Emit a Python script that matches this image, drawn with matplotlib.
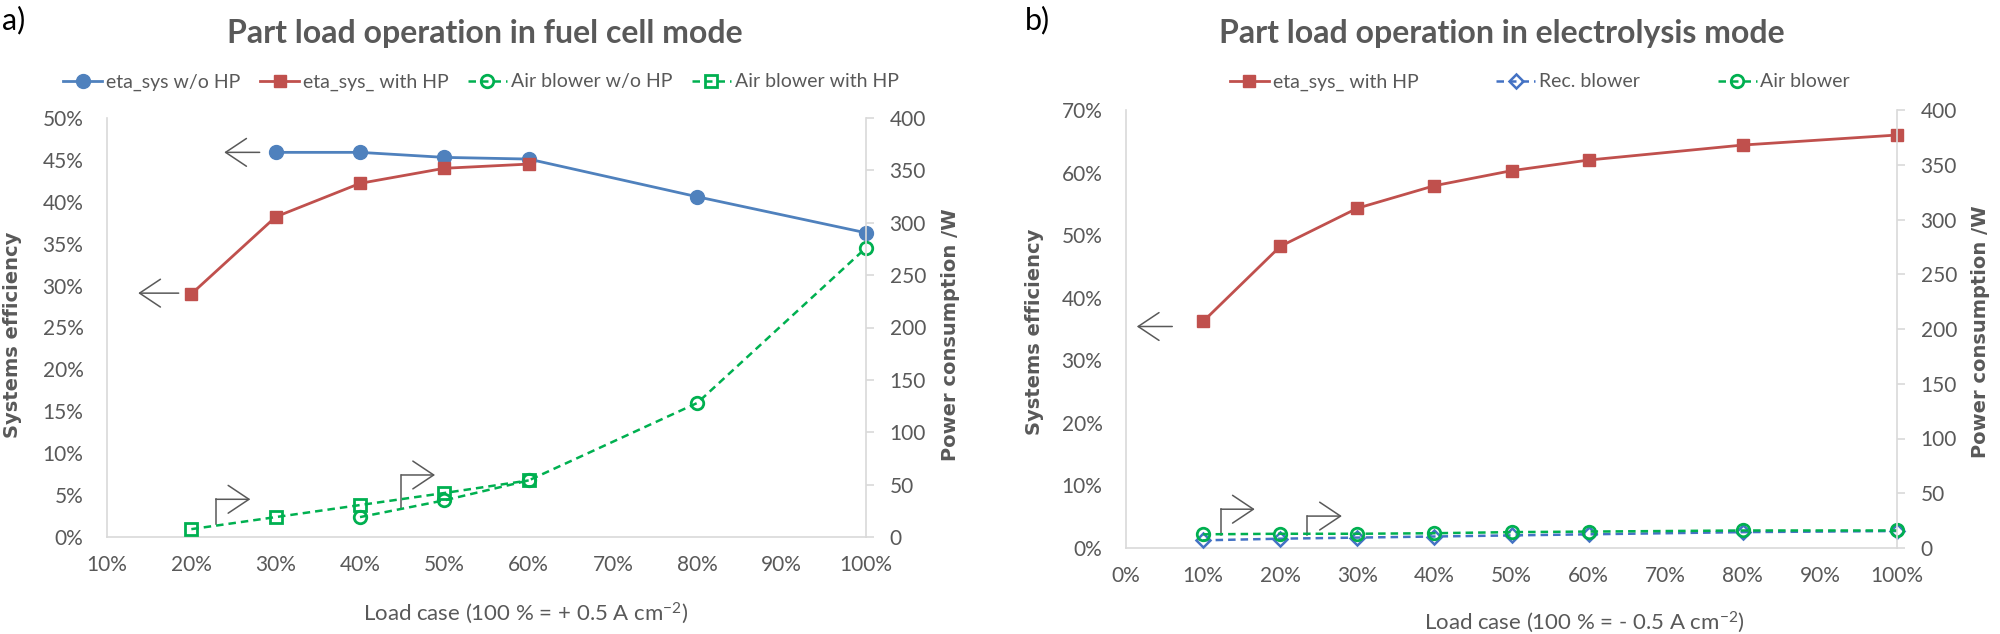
import matplotlib
matplotlib.use("Agg")
import matplotlib.pyplot as plt
from matplotlib.ticker import FuncFormatter

plt.rcParams['font.family'] = ['Lato', 'DejaVu Sans']
plt.rcParams['mathtext.fontset'] = 'custom'
plt.rcParams['mathtext.rm'] = 'Lato'
plt.rcParams['mathtext.default'] = 'rm'

GRAY = '#595959'
SPINE = '#D9D9D9'
BLUE = '#4F81BD'
RED = '#C0504D'
GREEN = '#00B050'

# ---- data: fuel cell mode (a) ----
fc_load_wo = [30, 40, 50, 60, 80, 100]
fc_eta_wo = [45.9, 45.9, 45.3, 45.1, 40.6, 36.3]
fc_load_hp = [20, 30, 40, 50, 60]
fc_eta_hp = [29.0, 38.2, 42.2, 44.0, 44.5]
fc_air_load_wo = [40, 50, 60, 80, 100]
fc_air_wo = [19, 35, 54, 128, 276]
fc_air_hp = [7.5, 19, 30.5, 42, 54]

# ---- data: electrolysis mode (b) ----
el_load = [10, 20, 30, 40, 50, 60, 80, 100]
el_eta_hp = [36.2, 48.2, 54.3, 57.9, 60.3, 62.0, 64.4, 66.0]
el_rec = [7, 8.5, 9.5, 10.5, 11.5, 12.5, 14.5, 15.5]
el_air = [12.5, 13, 13, 13.5, 14.5, 15, 16, 16]

W, H = 2000, 634
fig = plt.figure(figsize=(W / 100, H / 100), dpi=100)


def box(x0, y0, x1, y1):
    # pixel box (top-left origin) -> figure fraction rect
    return [x0 / W, 1 - y1 / H, (x1 - x0) / W, (y1 - y0) / H]


def style(ax, axr, xlim, xticks, ylim, yticks, rlim, rticks):
    ax.set_xlim(*xlim)
    ax.set_xticks(xticks)
    ax.set_ylim(*ylim)
    ax.set_yticks(yticks)
    axr.set_ylim(*rlim)
    axr.set_yticks(rticks)
    pct = FuncFormatter(lambda v, p: f"{v:.0f}%")
    ax.xaxis.set_major_formatter(pct)
    ax.yaxis.set_major_formatter(pct)
    for a in (ax, axr):
        for s in a.spines.values():
            s.set_color(SPINE)
            s.set_linewidth(1.2)
        a.spines['top'].set_visible(False)
    ax.spines['right'].set_visible(False)
    axr.spines['left'].set_visible(False)
    axr.spines['bottom'].set_visible(False)
    ax.tick_params(axis='x', length=0, pad=13, labelsize=15, labelcolor=GRAY)
    ax.tick_params(axis='y', length=0, pad=17, labelsize=15, labelcolor=GRAY)
    axr.tick_params(axis='y', length=6, width=1.2, color=SPINE, pad=11,
                    labelsize=15, labelcolor=GRAY)


ARROW = '->,head_length=0.75,head_width=0.5'


def left_arrow(ax, x_tail, x_tip, y):
    ax.annotate('', xy=(x_tip, y), xytext=(x_tail, y),
                arrowprops=dict(arrowstyle=ARROW, color=GRAY, lw=1.1,
                                mutation_scale=20, shrinkA=0, shrinkB=0))


def bent_arrow(ax, x, y0, y1, x_tip):
    ax.plot([x, x], [y0, y1], color=GRAY, lw=1.1)
    ax.annotate('', xy=(x_tip, y1), xytext=(x, y1),
                arrowprops=dict(arrowstyle=ARROW, color=GRAY, lw=1.1,
                                mutation_scale=20, shrinkA=0, shrinkB=0))


# ================= panel a =================
ax1 = fig.add_axes(box(107, 118, 866, 537))
ax1r = ax1.twinx()
style(ax1, ax1r, (10, 100), range(10, 101, 10), (0, 50), range(0, 51, 5),
      (0, 400), range(0, 401, 50))

h1, = ax1.plot(fc_load_wo, fc_eta_wo, color=BLUE, lw=2, marker='o', ms=10,
               clip_on=False, label='eta_sys w/o HP')
h2, = ax1.plot(fc_load_hp, fc_eta_hp, color=RED, lw=2, marker='s', ms=9,
               clip_on=False, label='eta_sys_ with HP')
h3, = ax1r.plot(fc_air_load_wo, fc_air_wo, color=GREEN, lw=1.8, ls=(0, (3, 2)),
                marker='o', ms=9, mfc='none', mew=2, clip_on=False,
                label='Air blower w/o HP')
h4, = ax1r.plot(fc_load_hp, fc_air_hp, color=GREEN, lw=1.8, ls=(0, (3, 2)),
                marker='s', ms=9, mfc='none', mew=2, clip_on=False,
                label='Air blower with HP')

left_arrow(ax1, 28.1, 23.9, 45.9)
left_arrow(ax1, 18.5, 13.7, 29.1)
bent_arrow(ax1, 22.9, 1.5, 4.5, 27.0)
bent_arrow(ax1, 44.9, 3.3, 7.4, 48.9)

fig.legend(handles=[h1, h2, h3, h4], loc='center', bbox_to_anchor=(481 / W, 1 - 82 / H),
           ncol=4, frameon=False, fontsize=14, labelcolor=GRAY, handlelength=2.0,
           handletextpad=0.2, columnspacing=1.0)

# ================= panel b =================
ax2 = fig.add_axes(box(1126, 110, 1897, 548))
ax2r = ax2.twinx()
style(ax2, ax2r, (0, 100), range(0, 101, 10), (0, 70), range(0, 71, 10),
      (0, 400), range(0, 401, 50))

g1, = ax2.plot(el_load, el_eta_hp, color=RED, lw=2, marker='s', ms=9,
               clip_on=False, label='eta_sys_ with HP')
g2, = ax2r.plot(el_load, el_rec, color='#4472C4', lw=1.8, ls=(0, (3, 2)),
                marker='D', ms=7, mfc='none', mew=1.8, clip_on=False,
                label='Rec. blower')
g3, = ax2r.plot(el_load, el_air, color=GREEN, lw=1.8, ls=(0, (3, 2)),
                marker='o', ms=9, mfc='none', mew=2, clip_on=False,
                label='Air blower')

left_arrow(ax2, 6.0, 1.4, 35.4)
bent_arrow(ax2, 12.3, 2.1, 6.2, 16.7)
bent_arrow(ax2, 23.5, 2.1, 5.1, 28.0)

fig.legend(handles=[g1, g2, g3], loc='center', bbox_to_anchor=(1540 / W, 1 - 82 / H),
           ncol=3, frameon=False, fontsize=14, labelcolor=GRAY, handlelength=2.0,
           handletextpad=0.2, columnspacing=4.0)

# ================= texts =================
fig.text(2 / W, 1 - 20 / H, 'a)', fontsize=22, ha='left', va='center')
fig.text(1025 / W, 1 - 20 / H, 'b)', fontsize=22, ha='left', va='center')
fig.text(485 / W, 1 - 33 / H, 'Part load operation in fuel cell mode',
         fontsize=23, fontweight='bold', color=GRAY, ha='center', va='center')
fig.text(1502 / W, 1 - 33 / H, 'Part load operation in electrolysis mode',
         fontsize=23, fontweight='bold', color=GRAY, ha='center', va='center')

ylab = dict(fontsize=14, fontweight='bold', color=GRAY, rotation=90,
            ha='center', va='center', family='DejaVu Sans')
fig.text(13 / W, 1 - 335 / H, 'Systems efficiency', **ylab)
fig.text(950 / W, 1 - 335 / H, 'Power consumption /W', **ylab)
fig.text(1035 / W, 1 - 332 / H, 'Systems efficiency', **ylab)
fig.text(1980 / W, 1 - 332 / H, 'Power consumption /W', **ylab)

fig.text(526 / W, 1 - 613 / H, 'Load case (100 % = + 0.5 A cm$^{-2}$)',
         fontsize=16, color=GRAY, ha='center', va='center')
fig.text(1584 / W, 1 - 622 / H, 'Load case (100 % = - 0.5 A cm$^{-2}$)',
         fontsize=16, color=GRAY, ha='center', va='center')

fig.savefig('out.png', dpi=100, facecolor='white')
